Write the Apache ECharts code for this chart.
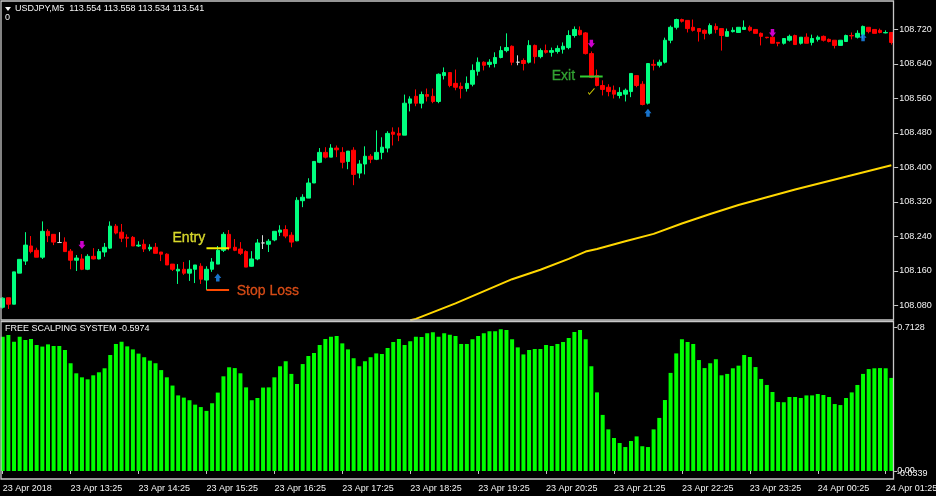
<!DOCTYPE html>
<html>
<head>
<meta charset="utf-8">
<style>
  html, body { margin: 0; padding: 0; background: #000; }
  #chart { width: 936px; height: 496px; }
</style>
<script src="https://cdn.jsdelivr.net/npm/echarts@6/dist/echarts.min.js"></script>
</head>
<body>
<div id="chart"></div>
<script>
'use strict';

// USDJPY M5 candles, one entry per bar
var opens = [
  108.076,108.098,108.083,108.155,108.183,108.218,108.208,108.192,108.252,108.245,
  108.226,108.227,108.206,108.185,108.188,108.164,108.194,108.188,108.204,108.213,
  108.264,108.250,108.238,108.238,108.218,108.222,108.211,108.215,108.204,108.199,
  108.176,108.160,108.164,108.155,108.164,108.171,108.139,108.164,108.176,108.208,
  108.245,108.215,108.211,108.205,108.171,108.188,108.225,108.222,108.232,108.250,
  108.256,108.243,108.230,108.323,108.329,108.364,108.412,108.435,108.424,108.445,
  108.435,108.414,108.440,108.387,108.408,108.426,108.419,108.435,108.445,108.482,
  108.479,108.475,108.549,108.565,108.549,108.569,108.565,108.553,108.613,108.620,
  108.595,108.588,108.583,108.593,108.623,108.644,108.639,108.641,108.655,108.671,
  108.681,108.644,108.648,108.644,108.683,108.657,108.671,108.667,108.669,108.674,
  108.678,108.706,108.718,108.712,108.664,108.613,108.590,108.586,108.579,108.567,
  108.570,108.576,108.613,108.593,108.549,108.639,108.637,108.644,108.695,108.725,
  108.743,108.741,108.725,108.722,108.718,108.711,108.727,108.722,108.704,108.715,
  108.713,108.720,108.725,108.720,108.711,108.702,108.702,108.690,108.688,108.695,
  108.706,108.688,108.702,108.690,108.697,108.704,108.697,108.695,108.683,108.692,
  108.706,108.702,108.708,108.725,108.720,108.718,108.712,108.713
];
var closes = [
  108.097,108.083,108.158,108.187,108.220,108.205,108.192,108.252,108.242,108.227,
  108.226,108.205,108.185,108.190,108.164,108.194,108.188,108.205,108.215,108.264,
  108.248,108.236,108.236,108.218,108.220,108.211,108.215,108.201,108.199,108.174,
  108.164,108.164,108.155,108.164,108.174,108.141,108.164,108.181,108.208,108.245,
  108.213,108.208,108.201,108.169,108.188,108.225,108.225,108.229,108.252,108.255,
  108.241,108.227,108.324,108.331,108.364,108.414,108.435,108.424,108.445,108.441,
  108.412,108.438,108.384,108.408,108.426,108.419,108.435,108.447,108.479,108.477,
  108.475,108.549,108.559,108.549,108.569,108.565,108.553,108.616,108.620,108.590,
  108.586,108.583,108.595,108.625,108.644,108.637,108.644,108.655,108.671,108.678,
  108.644,108.644,108.641,108.683,108.657,108.671,108.667,108.671,108.676,108.681,
  108.706,108.720,108.708,108.664,108.609,108.590,108.581,108.576,108.570,108.574,
  108.579,108.618,108.590,108.546,108.641,108.637,108.644,108.695,108.725,108.743,
  108.739,108.722,108.718,108.715,108.711,108.729,108.720,108.706,108.715,108.718,
  108.725,108.725,108.718,108.711,108.704,108.701,108.688,108.688,108.699,108.704,
  108.685,108.702,108.688,108.699,108.702,108.695,108.692,108.683,108.695,108.706,
  108.705,108.711,108.727,108.715,108.711,108.713,108.713,108.690
];
var lows = [
  108.073,108.072,108.083,108.155,108.174,108.201,108.192,108.188,108.227,108.220,
  108.226,108.204,108.164,108.160,108.162,108.162,108.187,108.187,108.193,108.211,
  108.245,108.227,108.215,108.218,108.216,108.204,108.206,108.201,108.183,108.174,
  108.160,108.130,108.151,108.137,108.132,108.130,108.116,108.158,108.176,108.204,
  108.208,108.206,108.197,108.169,108.170,108.185,108.211,108.204,108.229,108.241,
  108.236,108.215,108.229,108.308,108.329,108.364,108.410,108.421,108.424,108.424,
  108.398,108.396,108.359,108.375,108.384,108.410,108.417,108.419,108.435,108.451,
  108.461,108.475,108.530,108.542,108.537,108.553,108.549,108.549,108.604,108.586,
  108.579,108.560,108.576,108.588,108.613,108.625,108.632,108.632,108.653,108.667,
  108.637,108.637,108.625,108.641,108.641,108.653,108.664,108.657,108.664,108.664,
  108.674,108.701,108.706,108.662,108.607,108.588,108.567,108.565,108.560,108.560,
  108.553,108.563,108.586,108.544,108.546,108.625,108.632,108.641,108.688,108.720,
  108.736,108.713,108.715,108.692,108.697,108.708,108.711,108.671,108.704,108.713,
  108.713,108.720,108.715,108.711,108.683,108.699,108.688,108.681,108.685,108.692,
  108.685,108.685,108.688,108.683,108.692,108.692,108.690,108.676,108.683,108.692,
  108.697,108.699,108.699,108.711,108.711,108.711,108.711,108.685
];
var highs = [
  108.099,108.098,108.158,108.187,108.250,108.241,108.214,108.275,108.257,108.245,
  108.250,108.238,108.211,108.197,108.199,108.199,108.213,108.211,108.225,108.275,
  108.269,108.269,108.245,108.241,108.229,108.233,108.222,108.225,108.204,108.201,
  108.176,108.176,108.181,108.185,108.174,108.178,108.171,108.190,108.218,108.250,
  108.255,108.234,108.227,108.208,108.206,108.234,108.243,108.234,108.252,108.266,
  108.266,108.250,108.331,108.338,108.375,108.414,108.445,108.447,108.454,108.451,
  108.447,108.438,108.447,108.417,108.449,108.431,108.486,108.470,108.484,108.493,
  108.493,108.569,108.565,108.581,108.576,108.583,108.583,108.618,108.632,108.620,
  108.627,108.597,108.611,108.639,108.655,108.646,108.651,108.667,108.681,108.711,
  108.683,108.660,108.653,108.695,108.685,108.676,108.685,108.678,108.683,108.690,
  108.718,108.727,108.727,108.714,108.669,108.627,108.602,108.593,108.590,108.586,
  108.583,108.618,108.613,108.600,108.641,108.650,108.650,108.701,108.729,108.745,
  108.745,108.741,108.743,108.722,108.720,108.734,108.734,108.722,108.722,108.725,
  108.725,108.741,108.729,108.720,108.713,108.702,108.702,108.690,108.699,108.708,
  108.708,108.702,108.711,108.708,108.706,108.706,108.699,108.695,108.695,108.708,
  108.713,108.718,108.729,108.725,108.720,108.722,108.718,108.713
];

// FREE SCALPING SYSTEM histogram
var scalping = [
  .668,.677,.643,.668,.652,.657,.627,.619,.630,.622,
  .622,.602,.536,.486,.466,.456,.476,.491,.511,.577,
  .632,.643,.620,.605,.584,.566,.549,.536,.502,.466,
  .425,.376,.365,.352,.330,.318,.299,.337,.390,.471,
  .516,.512,.486,.416,.352,.363,.415,.416,.466,.521,
  .546,.483,.433,.532,.572,.587,.627,.657,.668,.672,
  .635,.605,.561,.521,.546,.566,.585,.582,.612,.642,
  .657,.627,.645,.668,.667,.685,.690,.668,.685,.678,
  .672,.632,.632,.655,.672,.685,.695,.695,.705,.702,
  .655,.615,.580,.602,.607,.607,.627,.622,.632,.642,
  .662,.692,.702,.655,.521,.391,.279,.207,.164,.139,
  .119,.149,.172,.123,.119,.207,.264,.353,.488,.585,
  .655,.642,.632,.552,.512,.536,.556,.476,.483,.511,
  .524,.577,.567,.517,.458,.428,.393,.343,.342,.368,
  .368,.363,.376,.376,.383,.378,.368,.333,.328,.363,
  .391,.428,.483,.507,.511,.512,.511,.463
];

// moving average, [bar, price]
var movingAvg = [
  [72,108.046],[73,108.049],[80,108.085],[90,108.141],[95,108.163],[100,108.188],
  [103,108.205],[105,108.211],[110,108.229],[115,108.246],[120,108.270],[125,108.292],
  [130,108.313],[140,108.349],[150,108.382],[157,108.405]
];

var downArrows = [[14,108.220],[104,108.687],[136,108.712]];
var upArrows = [[38,108.145],[114,108.527],[152,108.702]];
var checkMark = [[104,108.576]];

var entryLine = [[36,108.213],[40,108.213]];
var stopLine = [[36,108.116],[40,108.116]];
var exitLine = [[102,108.611],[106,108.611]];

var noteNames = ['Entry', 'Stop Loss', 'Exit'];
var notePoints = [[30,108.236],[41,108.114],[97,108.611]];

var priceTicks = [108.08,108.16,108.24,108.32,108.40,108.48,108.56,108.64,108.72];
var scalpTicks = [0, 0.7128];
var timeTicks = ['23 Apr 2018','23 Apr 13:25','23 Apr 14:25','23 Apr 15:25','23 Apr 16:25',
  '23 Apr 17:25','23 Apr 18:25','23 Apr 19:25','23 Apr 20:25','23 Apr 21:25','23 Apr 22:25',
  '23 Apr 23:25','24 Apr 00:25','24 Apr 01:25'];
var perTick = 12;

var categories = opens.map(function (o, i) {
  return i % perTick === 0 ? timeTicks[i / perTick] : '';
});
var candles = opens.map(function (o, i) {
  return [o, closes[i], lows[i], highs[i]];
});

var textFont = '"Liberation Sans"';
var textColor = '#f4f4f4';
var frameColor = '#c8c8c8';
var upColor = '#00ff7f';
var downColor = '#ff0000';
var noteColors = ['#ffff33', '#ff5a1a', '#3cc03c'];
var noteOffsets = [[0, 0], [2, 0], [0, 0]];

var arrowDown = 'path://M2 0H6V4H8L4 9L0 4H2Z';
var arrowUp = 'path://M4 0L8 5H6V9H2V5H0Z';
var tickMark = 'path://M0 6L1 5L2 7L8 0L9 1L2 9Z';

var titleStyle = {color: textColor, fontFamily: textFont, fontSize: 9, fontWeight: 'normal'};

var option = {
  backgroundColor: '#000',
  animation: false,
  tooltip: {show: false},
  title: [
    {text: 'USDJPY,M5  113.554 113.558 113.534 113.541', left: 15, top: 4, padding: 0, textStyle: titleStyle},
    {text: '0', left: 5, top: 13, padding: 0, textStyle: titleStyle},
    {text: 'FREE SCALPING SYSTEM -0.5974', left: 5, top: 324, padding: 0, textStyle: titleStyle},
    {text: '-0.0339', left: 897, top: 469, padding: 0, textStyle: titleStyle}
  ],
  grid: [
    {left: -0.13, width: 894.3, top: 1.5, height: 318.5, outerBoundsMode: 'none'},
    {left: -0.13, width: 894.3, top: 321.5, height: 157.5, outerBoundsMode: 'none'}
  ],
  xAxis: [
    {type: 'category', gridIndex: 0, data: categories,
      axisLine: {show: false}, axisTick: {show: false}, axisLabel: {show: false}, splitLine: {show: false}},
    {type: 'category', gridIndex: 1, data: categories,
      axisLine: {show: false},
      axisTick: {show: true, interval: perTick - 1, alignWithLabel: true, length: 3, lineStyle: {color: frameColor}},
      axisLabel: {interval: perTick - 1, align: 'left', margin: 5, color: textColor, fontFamily: textFont, fontSize: 9, hideOverlap: false},
      splitLine: {show: false}}
  ],
  yAxis: [
    {type: 'value', gridIndex: 0, position: 'right', scale: true,
      min: 108.0464, max: 108.7848,
      axisLine: {show: false},
      axisTick: {show: true, length: 4, customValues: priceTicks, lineStyle: {color: frameColor}},
      axisLabel: {customValues: priceTicks, margin: 5, color: textColor, fontFamily: textFont, fontSize: 9,
        formatter: function (v) { return v.toFixed(3); }},
      splitLine: {show: false}},
    {type: 'value', gridIndex: 1, position: 'right',
      min: -0.04, max: 0.7438,
      axisLine: {show: false},
      axisTick: {show: true, length: 3, customValues: scalpTicks, lineStyle: {color: frameColor}},
      axisLabel: {customValues: scalpTicks, showMinLabel: true, showMaxLabel: true, margin: 3,
        color: textColor, fontFamily: textFont, fontSize: 9,
        formatter: function (v) { return v === 0 ? '0.00' : v.toFixed(4); }},
      splitLine: {show: false}}
  ],
  graphic: [
    {type: 'rect', silent: true, z: 100, shape: {x: 1, y: 1, width: 892.5, height: 319},
      style: {fill: 'none', stroke: frameColor, lineWidth: 1.3}},
    {type: 'rect', silent: true, z: 100, shape: {x: 1, y: 321.5, width: 892.5, height: 157.5},
      style: {fill: 'none', stroke: frameColor, lineWidth: 1.3}},
    {type: 'polygon', silent: true, z: 100, shape: {points: [[5, 7], [11, 7], [8, 11]]},
      style: {fill: textColor}}
  ],
  series: [
    {type: 'candlestick', name: 'USDJPY', xAxisIndex: 0, yAxisIndex: 0, data: candles, barWidth: 4,
      itemStyle: {color: upColor, color0: downColor, borderColor: upColor, borderColor0: downColor,
        borderColorDoji: '#d8d8d8', borderWidth: 1}},
    {type: 'line', name: 'MA', xAxisIndex: 0, yAxisIndex: 0, data: movingAvg, showSymbol: false, z: 4,
      lineStyle: {color: '#ffd700', width: 2}},
    {type: 'line', name: 'Entry line', xAxisIndex: 0, yAxisIndex: 0, data: entryLine, showSymbol: false, z: 5,
      lineStyle: {color: '#f5f000', width: 2}},
    {type: 'line', name: 'Stop line', xAxisIndex: 0, yAxisIndex: 0, data: stopLine, showSymbol: false, z: 5,
      lineStyle: {color: '#ff4a00', width: 2}},
    {type: 'line', name: 'Exit line', xAxisIndex: 0, yAxisIndex: 0, data: exitLine, showSymbol: false, z: 5,
      lineStyle: {color: '#32cd32', width: 2}},
    {type: 'scatter', name: 'Sell', xAxisIndex: 0, yAxisIndex: 0, data: downArrows, symbol: arrowDown,
      symbolSize: [7, 8], z: 6, itemStyle: {color: '#ff00ff'}},
    {type: 'scatter', name: 'Buy', xAxisIndex: 0, yAxisIndex: 0, data: upArrows, symbol: arrowUp,
      symbolSize: [7, 8], z: 6, itemStyle: {color: '#1e90ff'}},
    {type: 'scatter', name: 'Check', xAxisIndex: 0, yAxisIndex: 0, data: checkMark, symbol: tickMark,
      symbolSize: [7, 7], z: 6, itemStyle: {color: '#f5f000'}},
    {type: 'scatter', name: 'Notes', xAxisIndex: 0, yAxisIndex: 0, symbolSize: 0, z: 7,
      data: notePoints.map(function (p, i) {
        return {name: noteNames[i], value: p,
          label: {show: true, position: 'right', distance: 0, offset: noteOffsets[i], formatter: '{b}',
            color: noteColors[i], textBorderColor: noteColors[i], textBorderWidth: 0.3,
            fontFamily: textFont, fontSize: 14}};
      })},
    {type: 'bar', name: 'FREE SCALPING SYSTEM', xAxisIndex: 1, yAxisIndex: 1, data: scalping, barWidth: 4,
      itemStyle: {color: '#00ff00'}}
  ]
};

var myChart = echarts.init(document.getElementById('chart'), null, {renderer: 'canvas'});
myChart.setOption(option);
</script>
</body>
</html>
